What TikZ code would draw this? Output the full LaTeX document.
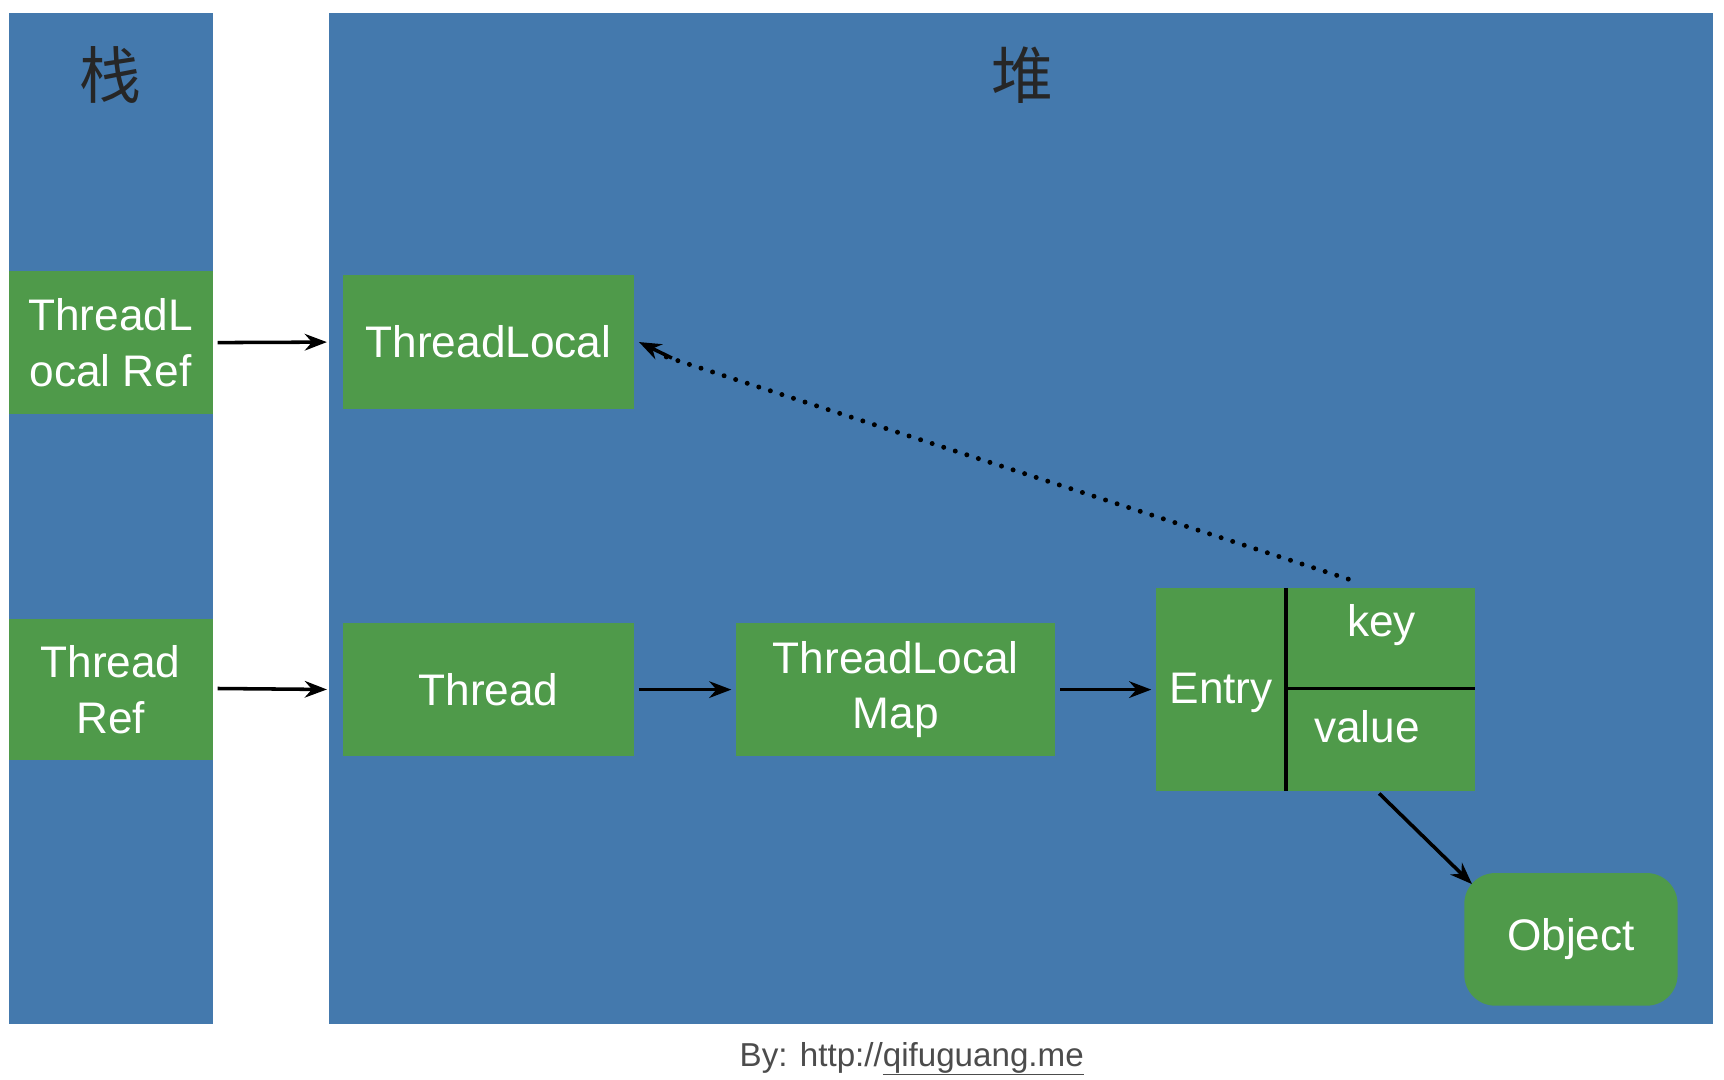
\documentclass[tikz,border=0pt]{standalone}
\usepackage{fontspec}
\setmainfont{Liberation Sans}
\newfontfamily\cjk{Noto Sans CJK SC}
\usetikzlibrary{arrows.meta}
\definecolor{bg}{HTML}{4479AD}
\definecolor{gr}{HTML}{4F9A4A}
\begin{document}
\begin{tikzpicture}[x=1pt,y=-1pt,
  area/.style={fill=bg,draw=none},
  box/.style={fill=gr,draw=none},
  lbl/.style={text=white,font=\fontsize{40}{50}\selectfont,align=center},
  arr/.style={-{Stealth[length=20pt,width=15pt]},line width=3.2pt,black}]
\useasboundingbox[fill=white] (0,0) rectangle (1560,977);
\fill[area] (8,12) rectangle (193,927);
\fill[area] (298,12) rectangle (1550,927);
\node[text=black!85,font=\cjk\fontsize{56}{60}\selectfont] (zhan) at (100,68) {栈};
\node[text=black!85,font=\cjk\fontsize{56}{60}\selectfont] (dui) at (925,68) {堆};
% stack boxes
\fill[box] (8,245) rectangle (193,375);
\node[lbl] (tlr) at (100,310) {ThreadL\\ocal Ref};
\coordinate (tlrE) at (197,310);
\fill[box] (8,560) rectangle (193,688);
\node[lbl] (tr) at (100,624) {Thread\\Ref};
\coordinate (trE) at (197,623);
% heap boxes
\node[box,minimum width=264pt,minimum height=121pt,inner sep=0] (tl) at (442,309.5) {};
\node[lbl] at (tl) {ThreadLocal};
\node[box,minimum width=264pt,minimum height=120pt,inner sep=0] (th) at (442,624) {};
\node[lbl] at (th) {Thread};
\node[box,minimum width=289pt,minimum height=120pt,inner sep=0] (map) at (810.5,624) {};
\node[lbl] at (map) {ThreadLocal\\Map};
\node[box,minimum width=289pt,minimum height=184pt,inner sep=0] (en) at (1190.5,624) {};
\draw[line width=3.5pt] (1164,532) -- (1164,716);
\draw[line width=3.5pt] (1164,623) -- (1335,623);
\node[lbl] (entry) at (1105,627) {Entry};
\node[lbl] (key) at (1250,566) {key};
\node[lbl] (val) at (1237,658) {value};
\node[box,rounded corners=28pt,minimum width=193pt,minimum height=120pt,inner sep=0] (obj) at (1421.5,850) {};
\node[lbl] at (obj) {Object};
% arrows
\draw[arr,shorten >=14pt] (tlrE) -- (tl.west);
\draw[arr,shorten >=14pt] (trE) -- (th.west);
\draw[arr,shorten <=4pt,shorten >=4pt] (th.east) -- (map.west);
\draw[arr,shorten <=4pt,shorten >=4pt] (map.east) -- (en.west);
\coordinate (vb) at (1248,718);
\draw[arr] (vb) -- (1332,800);
\coordinate (kt) at (1220,524);
\draw[line width=4.5pt,dash pattern=on 0pt off 11pt,line cap=round] (kt) -- (600,322);
\draw[arr] (608,324) -- ([xshift=4pt]tl.east);
\node[text=black!70,font=\fontsize{30}{34}\selectfont] (cap) at (825,958) {By: http://\underline{qifuguang.me}};
\end{tikzpicture}
\end{document}
